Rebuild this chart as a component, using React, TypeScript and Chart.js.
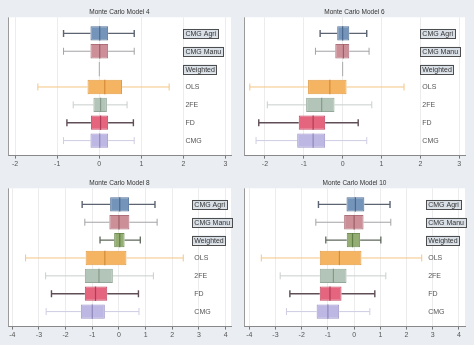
import React, { useEffect, useRef } from "react";
import { Chart, registerables } from "chart.js";

Chart.register(...registerables);

const categories = ["CMG Agri", "CMG Manu", "Weighted", "OLS", "2FE", "FD", "CMG"];
const boxedLabels = [true, true, true, false, false, false, false];

const titles = ["Monte Carlo Model 4", "Monte Carlo Model 6", "Monte Carlo Model 8", "Monte Carlo Model 10"];

// Model 4
const model4Low = [-0.85, -0.85, 0, -1.46, -0.62, -0.77, -0.85];
const model4Q1 = [-0.21, -0.21, 0, -0.28, -0.14, -0.2, -0.21];
const model4Median = [0.01, 0.01, 0, 0.13, 0.03, 0.03, 0.01];
const model4Q3 = [0.21, 0.21, 0, 0.54, 0.18, 0.21, 0.21];
const model4High = [0.83, 0.83, 0, 1.66, 0.66, 0.81, 0.83];

// Model 6
const model6Low = [-0.58, -0.7, 0, -2.39, -1.94, -2.16, -2.23];
const model6Q1 = [-0.14, -0.19, 0, -0.89, -0.94, -1.13, -1.17];
const model6Median = [0, 0.02, 0, -0.33, -0.54, -0.76, -0.76];
const model6Q3 = [0.17, 0.17, 0, 0.1, -0.21, -0.45, -0.45];
const model6High = [0.62, 0.68, 0, 1.58, 0.75, 0.4, 0.62];

// Model 8
const model8Low = [-1.38, -1.28, -0.71, -3.5, -2.75, -2.53, -2.73];
const model8Q1 = [-0.33, -0.36, -0.18, -1.25, -1.28, -1.28, -1.43];
const model8Median = [0.03, 0, 0.03, -0.53, -0.75, -0.88, -1.0];
const model8Q3 = [0.38, 0.39, 0.21, 0.28, -0.23, -0.44, -0.53];
const model8High = [1.35, 1.43, 0.8, 2.41, 1.29, 0.73, 0.75];

// Model 10
const model10Low = [-1.36, -1.46, -1.08, -3.54, -2.82, -2.45, -2.58];
const model10Q1 = [-0.29, -0.38, -0.28, -1.31, -1.31, -1.31, -1.43];
const model10Median = [0.05, 0, -0.06, -0.56, -0.79, -0.92, -1.0];
const model10Q3 = [0.39, 0.36, 0.23, 0.28, -0.29, -0.48, -0.57];
const model10High = [1.37, 1.4, 1.02, 2.58, 1.21, 0.79, 0.6];

const ticksSmall = [-2, -1, 0, 1, 2, 3];
const ticksWide = [-4, -3, -2, -1, 0, 1, 2, 3, 4];

const FONT = "'Liberation Sans', Arial, sans-serif";

const fillColors = ["#7594b9", "#cc8e97", "#93ad73", "#f5b462", "#b3c5b8", "#e5657f", "#bdb7e3"];
const borderColors = ["#56749a", "#ad707a", "#718f55", "#e39c45", "#93a899", "#c44a64", "#9f98ca"];
const medianColors = ["#4a6890", "#9c6069", "#5f7d45", "#d48c38", "#86998b", "#b03c56", "#8f88bc"];
const whiskerColors = ["#5c6472", "#a3a3a6", "#5f6a5c", "#f3c585", "#c9cecc", "#5f4e56", "#cfcde2"];
const whiskerWidths = [1.4, 1, 1.3, 1, 1, 1.4, 1];

type Panel = {
  title: string;
  low: number[];
  q1: number[];
  med: number[];
  q3: number[];
  high: number[];
  ticks: number[];
  min: number;
  max: number;
  labelX: number;
  left: number;
  top: number;
  padL: number;
  padR: number;
};

const panels: Panel[] = [
  { title: titles[0], low: model4Low, q1: model4Q1, med: model4Median, q3: model4Q3, high: model4High, ticks: ticksSmall, min: -2.17, max: 3.13, labelX: 2.0, left: 0, top: 0, padL: 8, padR: 6 },
  { title: titles[1], low: model6Low, q1: model6Q1, med: model6Median, q3: model6Q3, high: model6High, ticks: ticksSmall, min: -2.54, max: 3.15, labelX: 2.0, left: 236, top: 0, padL: 8, padR: 8 },
  { title: titles[2], low: model8Low, q1: model8Q1, med: model8Median, q3: model8Q3, high: model8High, ticks: ticksWide, min: -4.16, max: 4.2, labelX: 2.75, left: 0, top: 171, padL: 8, padR: 6 },
  { title: titles[3], low: model10Low, q1: model10Q1, med: model10Median, q3: model10Q3, high: model10High, ticks: ticksWide, min: -4.2, max: 4.23, labelX: 2.75, left: 236, top: 171, padL: 8, padR: 8 },
];

const boxPlugin = {
  id: "boxExtras",
  beforeDraw(chart: any) {
    const { ctx, chartArea } = chart;
    ctx.save();
    ctx.fillStyle = "#ffffff";
    ctx.fillRect(chartArea.left, chartArea.top, chartArea.right - chartArea.left, chartArea.bottom - chartArea.top);
    ctx.restore();
  },
  beforeDatasetsDraw(chart: any, _args: any, opts: any) {
    const { ctx, chartArea } = chart;
    const xs = chart.scales.x;
    const meta = chart.getDatasetMeta(0);
    ctx.save();
    // left axis line
    ctx.strokeStyle = "#9a9a9a";
    ctx.lineWidth = 1;
    ctx.beginPath();
    ctx.moveTo(chartArea.left + 0.5, chartArea.top);
    ctx.lineTo(chartArea.left + 0.5, chartArea.bottom);
    ctx.stroke();
    // whiskers
    meta.data.forEach((el: any, i: number) => {
      const y = el.y;
      const lo = xs.getPixelForValue(opts.low[i]);
      const a = xs.getPixelForValue(opts.q1[i]);
      const b = xs.getPixelForValue(opts.q3[i]);
      const hi = xs.getPixelForValue(opts.high[i]);
      if (hi - lo < 0.5) return;
      ctx.strokeStyle = whiskerColors[i];
      ctx.lineWidth = whiskerWidths[i];
      ctx.beginPath();
      ctx.moveTo(lo, y);
      ctx.lineTo(a, y);
      ctx.moveTo(b, y);
      ctx.lineTo(hi, y);
      ctx.moveTo(lo, y - 3.5);
      ctx.lineTo(lo, y + 3.5);
      ctx.moveTo(hi, y - 3.5);
      ctx.lineTo(hi, y + 3.5);
      ctx.stroke();
    });
    ctx.restore();
  },
  afterDatasetsDraw(chart: any, _args: any, opts: any) {
    const { ctx } = chart;
    const xs = chart.scales.x;
    const meta = chart.getDatasetMeta(0);
    ctx.save();
    meta.data.forEach((el: any, i: number) => {
      const y = el.y;
      const h = el.height;
      const m = xs.getPixelForValue(opts.med[i]);
      const degenerate = opts.high[i] - opts.low[i] === 0;
      ctx.strokeStyle = degenerate ? "#a8a8a8" : medianColors[i];
      ctx.lineWidth = degenerate ? 1 : 1.2;
      ctx.beginPath();
      ctx.moveTo(m, y - h / 2);
      ctx.lineTo(m, y + h / 2);
      ctx.stroke();

      // category labels on the right
      const lx = xs.getPixelForValue(opts.labelX);
      ctx.font = `7px ${FONT}`;
      ctx.textBaseline = "middle";
      ctx.textAlign = "left";
      const text = categories[i];
      if (boxedLabels[i]) {
        const w = ctx.measureText(text).width;
        ctx.fillStyle = "#d9dfe6";
        ctx.fillRect(lx, y - 4.5, w + 4, 9);
        ctx.strokeStyle = "#4d4d4d";
        ctx.lineWidth = 1;
        ctx.strokeRect(Math.round(lx) + 0.5, Math.round(y - 4.5) + 0.5, Math.round(w + 4), 9);
        ctx.fillStyle = "#333333";
      } else {
        ctx.fillStyle = "#555555";
      }
      ctx.fillText(text, lx + 2, y + 0.5);
    });
    ctx.restore();
  },
};

function PanelChart({ panel }: { panel: Panel }) {
  const ref = useRef<HTMLCanvasElement>(null);
  useEffect(() => {
    if (!ref.current) return;
    const chart = new Chart(ref.current, {
      type: "bar",
      data: {
        datasets: [
          {
            data: categories.map((_c, i) => ({ x: [panel.q1[i], panel.q3[i]], y: i + 1 })) as any,
            backgroundColor: fillColors,
            borderColor: borderColors,
            borderWidth: 1,
            borderSkipped: false,
            barPercentage: 0.8,
            categoryPercentage: 1,
          } as any,
        ],
      },
      options: {
        indexAxis: "y",
        animation: false,
        responsive: false,
        maintainAspectRatio: false,
        layout: { padding: { left: panel.padL, right: panel.padR, top: 0, bottom: 3 } },
        scales: {
          x: {
            type: "linear",
            min: panel.min,
            max: panel.max,
            afterBuildTicks: (s: any) => {
              s.ticks = panel.ticks.map((v) => ({ value: v }));
            },
            ticks: {
              font: { size: 7, family: FONT },
              color: "#555555",
              padding: 1,
              maxRotation: 0,
              autoSkip: false,
            },
            grid: { color: "#ececec", tickLength: 3, tickColor: "#777777", drawTicks: true },
            border: { color: "#888888" },
          },
          y: { type: "linear", display: false, reverse: true, offset: false, min: 0.1, max: 7.84, grid: { offset: false } },
        },
        plugins: {
          legend: { display: false },
          tooltip: { enabled: false },
          title: {
            display: true,
            text: panel.title,
            font: { size: 6.5, weight: "normal", family: FONT },
            color: "#333333",
            padding: { top: 8, bottom: 1.5 },
          },
          boxExtras: { low: panel.low, q1: panel.q1, med: panel.med, q3: panel.q3, high: panel.high, labelX: panel.labelX },
        } as any,
      },
      plugins: [boxPlugin],
    } as any);
    return () => chart.destroy();
  }, [panel]);
  return (
    <canvas
      ref={ref}
      width={237}
      height={172}
      style={{ position: "absolute", left: panel.left, top: panel.top, width: 237, height: 172 }}
    />
  );
}

export default function App() {
  return (
    <div style={{ position: "fixed", left: 0, top: 0, width: 474, height: 345, background: "#eaedf1", overflow: "hidden" }}>
      {panels.map((p) => (
        <PanelChart key={p.title} panel={p} />
      ))}
    </div>
  );
}
